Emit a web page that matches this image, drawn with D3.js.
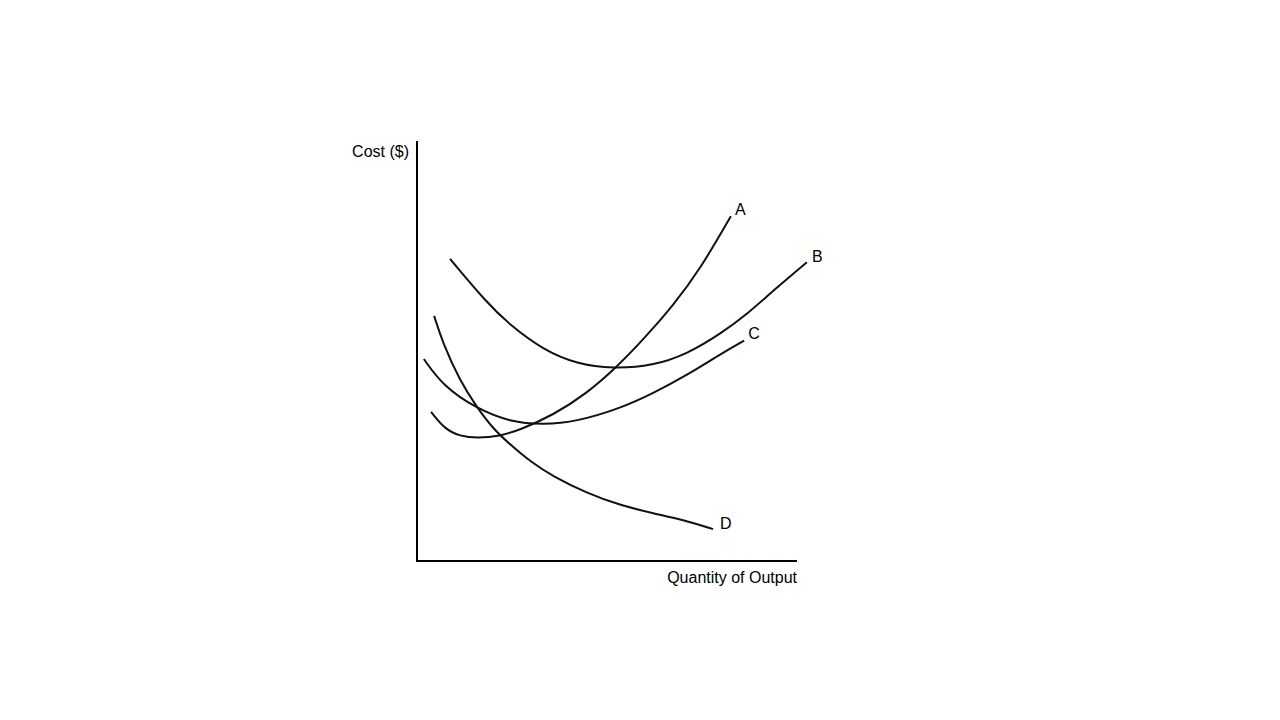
<!DOCTYPE html>
<html>
<head>
<meta charset="utf-8">
<script src="https://cdn.jsdelivr.net/npm/d3@7"></script>
<style>
  html, body { margin: 0; padding: 0; background: #fff; }
  svg { display: block; }
  text { font-family: "Liberation Sans", Arial, sans-serif; fill: #000; }
</style>
</head>
<body>
<svg id="chart" width="1280" height="720"></svg>
<script>
// Curve data (abstract units: quantity 0-100, cost 0-100)
const curveA = [[3.7,35.6],[7.4,31.4],[11.3,29.8],[15.8,29.3],[21.8,29.8],[27.1,31.3],[35.8,34.8],[44.7,40.0],[52.6,46.3],[60.0,53.3],[67.4,61.0],[74.5,69.6],[82.6,82.3]];
const curveB = [[8.7,72.1],[18.4,61.6],[24.5,56.3],[33.2,50.4],[42.1,47.0],[51.6,45.9],[62.1,46.6],[71.1,49.4],[80.0,54.3],[87.0,59.0],[93.7,64.5],[102.6,71.3]];
const curveC = [[1.8,48.2],[6.8,41.8],[15.8,36.3],[24.5,33.2],[33.2,32.5],[42.1,33.3],[53.4,36.4],[62.1,40.0],[71.1,44.4],[79.7,49.3],[86.1,52.6]];
const curveD = [[4.5,58.5],[6.8,52.0],[11.3,43.0],[15.8,36.6],[20.0,31.6],[24.5,27.8],[30.0,23.6],[35.8,20.2],[44.7,16.2],[53.4,13.3],[62.1,11.4],[71.1,9.6],[77.9,7.6]];
const curveNames = ["A","B","C","D"];
const yLabel = "Cost ($)";
const xLabel = "Quantity of Output";

(function(){
const svg = d3.select("#chart");
const mLeft = 417, mRight = 797, mTop = 141, mBottom = 561;
const x = d3.scaleLinear().domain([0,100]).range([mLeft,mRight]);
const y = d3.scaleLinear().domain([0,100]).range([mBottom, mBottom - 419]);

// axes
svg.append("line").attr("x1",mLeft).attr("x2",mLeft).attr("y1",mTop).attr("y2",mBottom+1)
  .attr("stroke","#000").attr("stroke-width",2);
svg.append("line").attr("x1",mLeft-1).attr("x2",mRight).attr("y1",mBottom).attr("y2",mBottom)
  .attr("stroke","#000").attr("stroke-width",2);

svg.append("text").attr("x",409).attr("y",157).attr("text-anchor","end")
  .style("font-size","16px").text(yLabel);
svg.append("text").attr("x",797).attr("y",583).attr("text-anchor","end")
  .style("font-size","16px").text(xLabel);

const line = d3.line().x(d=>x(d[0])).y(d=>y(d[1])).curve(d3.curveBasis);
const curves = [curveA, curveB, curveC, curveD];
svg.selectAll("path.curve").data(curves).enter().append("path")
  .attr("class","curve")
  .attr("d", line)
  .attr("fill","none").attr("stroke","#111").attr("stroke-width",2);

// end labels
const labelOffsets = [[4,-1],[5,0],[4,-2],[7,0]];
curves.forEach((c,i)=>{
  const last = c[c.length-1];
  svg.append("text")
    .attr("x", x(last[0]) + labelOffsets[i][0])
    .attr("y", y(last[1]) + labelOffsets[i][1])
    .style("font-size","16px")
    .text(curveNames[i]);
});
})();
</script>
</body>
</html>
